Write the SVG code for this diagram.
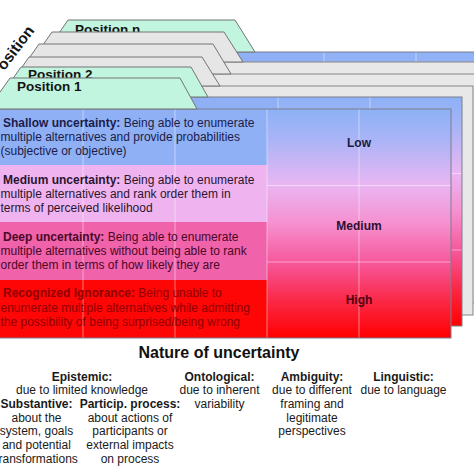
<svg xmlns="http://www.w3.org/2000/svg" xmlns:xlink="http://www.w3.org/1999/xlink" width="474" height="474" viewBox="0 0 474 474">
<style>
text{font-family:"Liberation Sans",Arial,sans-serif;}
.tab{stroke:#747474;stroke-width:1;}
.teal{fill:#c2f5df;}
.gray{fill:#e6e6e6;}
.plab{font-size:13.5px;font-weight:bold;fill:#141414;}
.row{font-size:12px;}
.b{font-weight:bold;}
.lvl{font-size:12px;font-weight:bold;text-anchor:middle;}
.bt{font-size:12px;fill:#1a1a1a;text-anchor:middle;}
.grid{stroke:#ffffff;stroke-opacity:0.45;stroke-width:1;fill:none;}
</style>
<defs>
<linearGradient id="lvlgrad" x1="0" y1="0" x2="0" y2="1">
<stop offset="0" stop-color="#8db1f6"/>
<stop offset="0.13" stop-color="#a8b4f6"/>
<stop offset="0.33" stop-color="#e9b6f3"/>
<stop offset="0.5" stop-color="#f690cf"/>
<stop offset="0.67" stop-color="#f6589c"/>
<stop offset="0.83" stop-color="#fa2a4a"/>
<stop offset="1" stop-color="#ff0000"/>
</linearGradient>
<g id="body">
<rect x="-9" y="109" width="276" height="56" fill="#8fb0f4"/>
<rect x="-9" y="165" width="276" height="57" fill="#efb4ef"/>
<rect x="-9" y="222" width="276" height="58" fill="#f062aa"/>
<rect x="-9" y="280" width="276" height="58" fill="#fe0606"/>
<rect x="267" y="109" width="184" height="229" fill="url(#lvlgrad)"/>
<path class="grid" d="M83 109V338M175 109V338M267 109V338M359 109V338M267 185.5H451M267 262H451"/>
<rect x="-9" y="109" width="460" height="229" fill="none" stroke="#7b7f8c" stroke-width="1"/>
</g>
<rect id="graybody" x="-9" y="109" width="460" height="229" fill="#e8e8e8" stroke="#858585" stroke-width="1"/>
</defs>

<text class="plab" transform="translate(-1.9,79.4) rotate(-53)" style="font-size:15.5px">Position</text>

<g id="position-n">
<use xlink:href="#body" transform="translate(57,-57)"/>
<polygon class="tab teal" points="68,20 235,20 255,52 46,52"/>
<text class="plab" x="75" y="33.5">Position n</text>
</g>
<g id="position-gray-3">
<use xlink:href="#graybody" transform="translate(45,-47)"/>
<polygon class="tab gray" points="52,32 224,32 243,62 31,62"/>
</g>
<g id="position-gray-2">
<use xlink:href="#graybody" transform="translate(34,-35)"/>
<polygon class="tab gray" points="39,44 213,44 231,74 18,74"/>
</g>
<g id="position-gray-1">
<use xlink:href="#graybody" transform="translate(22,-23)"/>
<polygon class="tab gray" points="29,57 202,57 220,86 9,86"/>
</g>
<g id="position-2">
<use xlink:href="#body" transform="translate(11,-12)"/>
<polygon class="tab teal" points="21,67 191,67 208,97 0,97"/>
<text class="plab" x="28" y="79">Position 2</text>
</g>
<g id="position-1">
<use xlink:href="#body"/>
<polygon class="tab teal" points="10,78 180,78 197,109 -12,109"/>
<text class="plab" x="17" y="91">Position 1</text>
<g id="row-shallow" class="row" fill="#1c1c4a">
<text x="3" y="126.5"><tspan class="b">Shallow uncertainty:</tspan> Being able to enumerate</text>
<text x="0.5" y="140.5">multiple alternatives and provide probabilities</text>
<text x="0.5" y="154.5">(subjective or objective)</text>
</g>
<g id="row-medium" class="row" fill="#2a1530">
<text x="3" y="183.5"><tspan class="b">Medium uncertainty:</tspan> Being able to enumerate</text>
<text x="0.5" y="197.5">multiple alternatives and rank order them in</text>
<text x="0.5" y="211.5">terms of perceived likelihood</text>
</g>
<g id="row-deep" class="row" fill="#4a0828">
<text x="3" y="240.5"><tspan class="b">Deep uncertainty:</tspan> Being able to enumerate</text>
<text x="0.5" y="254.5">multiple alternatives without being able to rank</text>
<text x="0.5" y="268.5">order them in terms of how likely they are</text>
</g>
<g id="row-ignorance" class="row" fill="#900000">
<text x="3" y="297"><tspan class="b">Recognized Ignorance:</tspan> Being unable to</text>
<text x="0.5" y="311.5">enumerate multiple alternatives while admitting</text>
<text x="0.5" y="325.5">the possibility of being  surprised/being wrong</text>
</g>
<text class="lvl" x="359" y="146.5" fill="#1a1a40">Low</text>
<text class="lvl" x="359" y="230" fill="#2d1030">Medium</text>
<text class="lvl" x="359" y="304" fill="#500010">High</text>
</g>

<g id="nature">
<text x="219" y="357.5" font-size="16" font-weight="bold" text-anchor="middle" fill="#111">Nature of uncertainty</text>
<g id="epistemic">
<text class="bt b" x="82" y="380.5">Epistemic:</text>
<text class="bt" x="82" y="394.2">due to limited knowledge</text>
</g>
<g id="substantive">
<text class="bt b" x="36.5" y="407.9">Substantive:</text>
<text class="bt" x="36.5" y="421.6">about the</text>
<text class="bt" x="36.5" y="435.3">system, goals</text>
<text class="bt" x="36.5" y="449">and potential</text>
<text class="bt" x="36.5" y="462.7">transformations</text>
</g>
<g id="particip">
<text class="bt b" x="130" y="407.9">Particip. process:</text>
<text class="bt" x="130" y="421.6">about actions of</text>
<text class="bt" x="130" y="435.3">participants or</text>
<text class="bt" x="130" y="449">external impacts</text>
<text class="bt" x="130" y="462.7">on process</text>
</g>
<g id="ontological">
<text class="bt b" x="219.5" y="380.5">Ontological:</text>
<text class="bt" x="219.5" y="394.2">due to inherent</text>
<text class="bt" x="219.5" y="407.9">variability</text>
</g>
<g id="ambiguity">
<text class="bt b" x="312" y="380.5">Ambiguity:</text>
<text class="bt" x="312" y="394.2">due to different</text>
<text class="bt" x="312" y="407.9">framing and</text>
<text class="bt" x="312" y="421.6">legitimate</text>
<text class="bt" x="312" y="435.3">perspectives</text>
</g>
<g id="linguistic">
<text class="bt b" x="403.5" y="380.5">Linguistic:</text>
<text class="bt" x="403.5" y="394.2">due to language</text>
</g>
</g>
</svg>
